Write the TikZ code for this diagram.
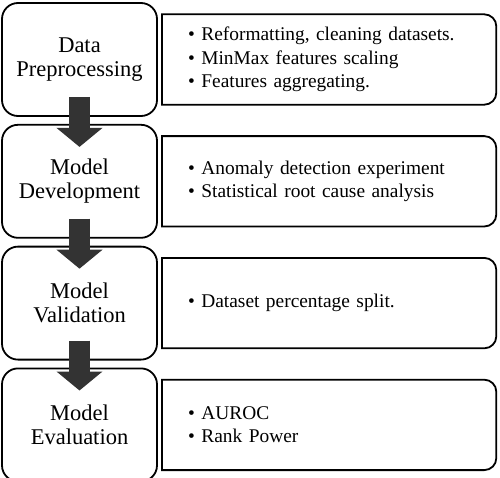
\documentclass[tikz,border=0pt]{standalone}
\usepackage{fontspec}
\setmainfont{Liberation Serif}
\usepackage{xcolor}
\usepackage{tikz}
\usetikzlibrary{positioning, arrows.meta}

\definecolor{arrowgray}{HTML}{333333}

\begin{document}
\begin{tikzpicture}[
    x=1pt, y=1pt,
    stage/.style={draw, line width=1.8pt, rounded corners=16pt, minimum width=155pt,
                  minimum height=113pt, align=center, font=\fontsize{22.5}{24}\selectfont},
    detail/.style={minimum height=90pt, text width=282pt, inner xsep=26pt,
                   align=left, font=\fontsize{19.4}{23.5}\selectfont},
    frame/.style={line width=1.8pt, rounded corners=12pt},
    flow/.style={-{Triangle[width=45pt, length=19pt]}, line width=21pt, draw=arrowgray},
]
\useasboundingbox (0,0) rectangle (500,-477);

% --- Stages ---
\node[stage] (prep) at (79.5,-59.5) {Data\\Preprocessing};
\node[stage, below=7pt of prep] (devel) {Model\\Development};
\node[stage, below=7pt of devel] (valid) {Model\\Validation};
\node[stage, below=7pt of valid] (evalu) {Model\\Evaluation};

% --- Details ---
\node[detail, right=4pt of prep] (prepinfo)
    {\textbullet~Reformatting, cleaning datasets.\\
     \textbullet~MinMax features scaling\\
     \textbullet~Features aggregating.};
\node[detail, right=4pt of devel] (develinfo)
    {\textbullet~Anomaly detection experiment\\
     \textbullet~Statistical root cause analysis};
\node[detail, right=4pt of valid] (validinfo)
    {\textbullet~Dataset percentage split.};
\node[detail, right=4pt of evalu] (evaluinfo)
    {\textbullet~AUROC\\
     \textbullet~Rank Power};

% --- Detail frames (square on the left) ---
\draw[frame] (prepinfo.south west) [sharp corners] -- (prepinfo.north west)
    [rounded corners=12pt] -- (prepinfo.north east) -- (prepinfo.south east)
    [sharp corners] -- cycle;
\draw[frame] (develinfo.south west) [sharp corners] -- (develinfo.north west)
    [rounded corners=12pt] -- (develinfo.north east) -- (develinfo.south east)
    [sharp corners] -- cycle;
\draw[frame] (validinfo.south west) [sharp corners] -- (validinfo.north west)
    [rounded corners=12pt] -- (validinfo.north east) -- (validinfo.south east)
    [sharp corners] -- cycle;
\draw[frame] (evaluinfo.south west) [sharp corners] -- (evaluinfo.north west)
    [rounded corners=12pt] -- (evaluinfo.north east) -- (evaluinfo.south east)
    [sharp corners] -- cycle;

% --- Flow ---
\draw[flow] ([yshift=20pt]prep.south) -- ([yshift=-23pt]devel.north);
\draw[flow] ([yshift=20pt]devel.south) -- ([yshift=-23pt]valid.north);
\draw[flow] ([yshift=20pt]valid.south) -- ([yshift=-23pt]evalu.north);
\end{tikzpicture}
\end{document}
